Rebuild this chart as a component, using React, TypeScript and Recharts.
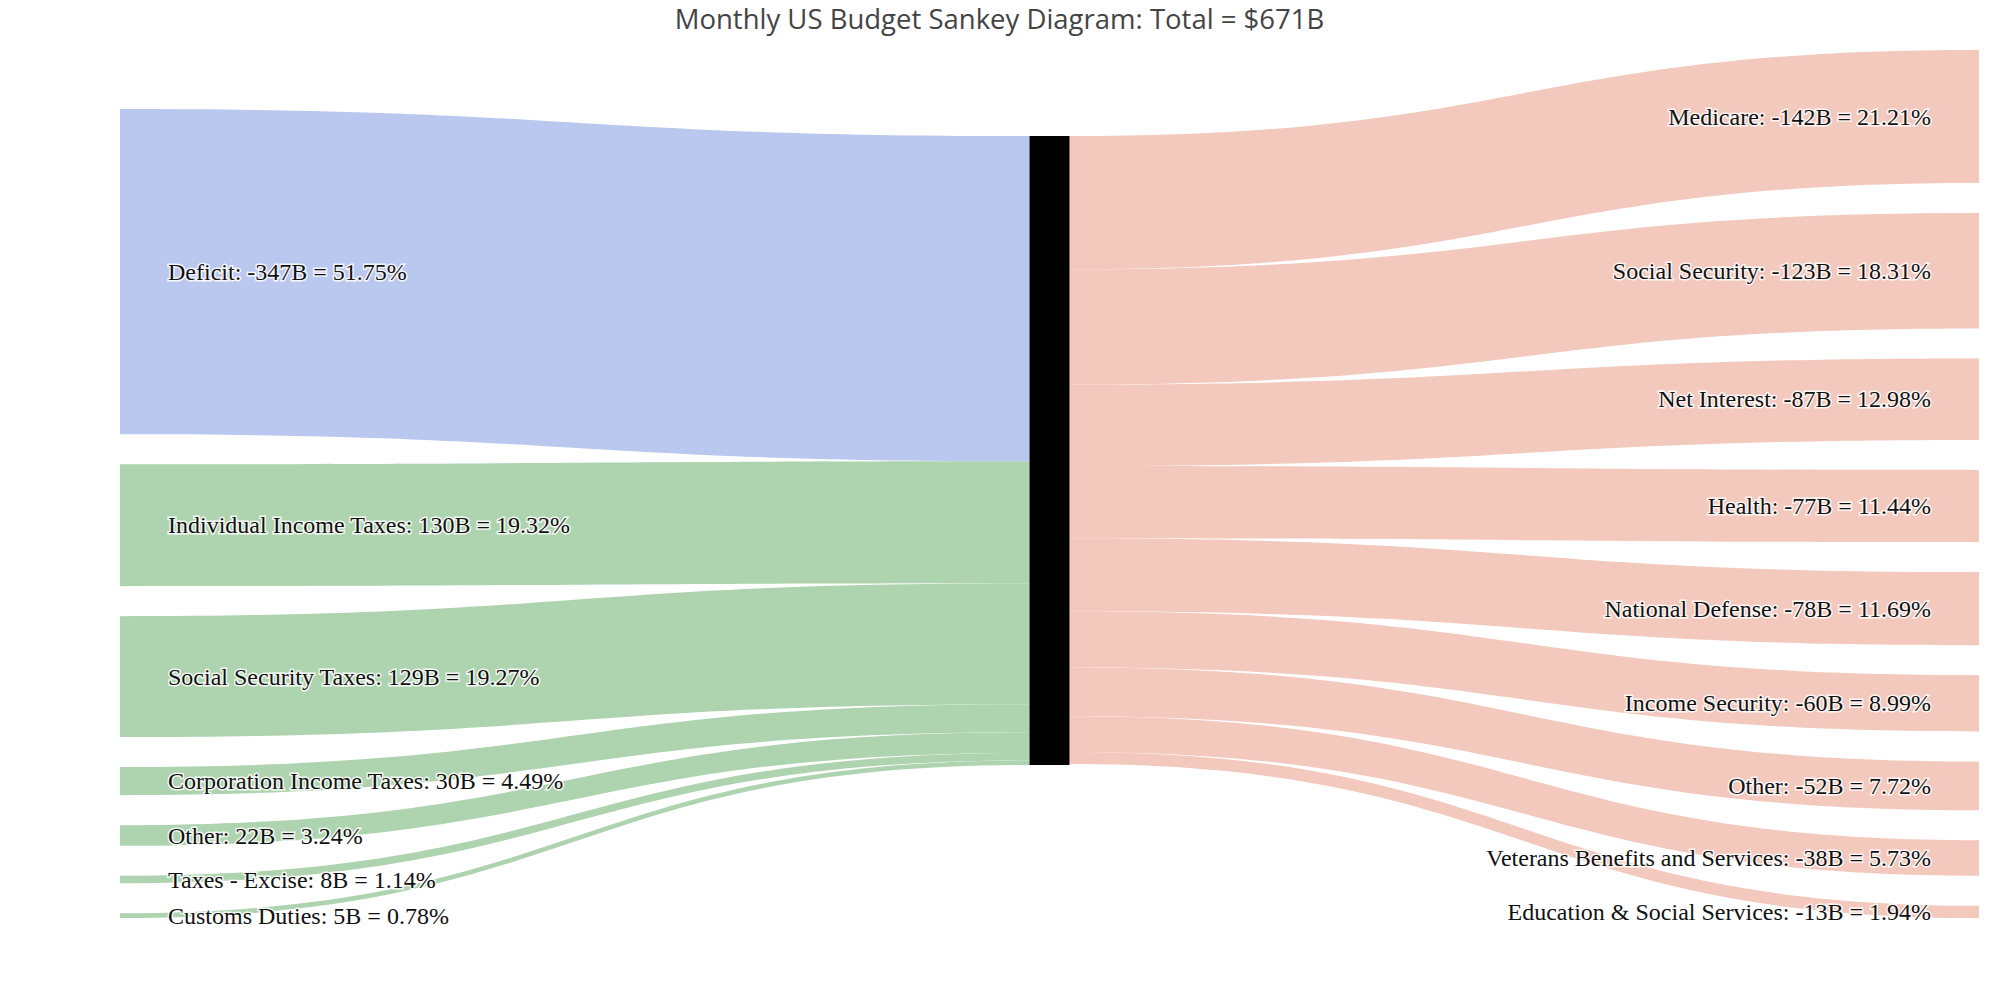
import React from 'react';
import { Sankey, Layer, Rectangle } from 'recharts';

// revenue sources (left column), in display order
const sourceNames = [
  'Deficit',
  'Individual Income Taxes',
  'Social Security Taxes',
  'Corporation Income Taxes',
  'Other',
  'Taxes - Excise',
  'Customs Duties',
];
const sourceValues = [347, 130, 129, 30, 22, 8, 5];
const sourceShares = ['51.75%', '19.32%', '19.27%', '4.49%', '3.24%', '1.14%', '0.78%'];

// spending categories (right column), in display order
const outlayNames = [
  'Medicare',
  'Social Security',
  'Net Interest',
  'Health',
  'National Defense',
  'Income Security',
  'Other',
  'Veterans Benefits and Services',
  'Education & Social Services',
];
const outlayValues = [142, 123, 87, 77, 78, 60, 52, 38, 13];
const outlayShares = ['21.21%', '18.31%', '12.98%', '11.44%', '11.69%', '8.99%', '7.72%', '5.73%', '1.94%'];

const totalBudget = 671;

const BLUE = '#bac8f0';
const GREEN = '#aed3af';
const SALMON = '#f3c8bd';

const hubIndex = sourceNames.length;

const nodes = [
  ...sourceNames.map((name, i) => ({
    name,
    side: 'left',
    label: `${name}: ${i === 0 ? '-' : ''}${sourceValues[i]}B = ${sourceShares[i]}`,
  })),
  { name: 'Budget', side: 'hub', label: '' },
  ...outlayNames.map((name, i) => ({
    name,
    side: 'right',
    label: `${name}: -${outlayValues[i]}B = ${outlayShares[i]}`,
  })),
];

const links = [
  ...sourceValues.map((value, i) => ({
    source: i,
    target: hubIndex,
    value,
    color: i === 0 ? BLUE : GREEN,
  })),
  ...outlayValues.map((value, i) => ({
    source: hubIndex,
    target: hubIndex + 1 + i,
    value,
    color: SALMON,
  })),
];

const data = { nodes, links };

const labelStyle: React.CSSProperties = {
  fontFamily: '"Liberation Serif", "Times New Roman", serif',
  fontSize: 24,
  fill: '#111',
  stroke: '#fff',
  strokeWidth: 3,
  strokeOpacity: 0.85,
  paintOrder: 'stroke',
};

const BudgetNode = (props: any) => {
  const { x, y, width, height, payload } = props;
  const cy = y + height / 2;
  if (payload.side === 'hub') {
    return (
      <Layer>
        <Rectangle x={x} y={y} width={width} height={height} fill="#000" />
      </Layer>
    );
  }
  const left = payload.side === 'left';
  return (
    <Layer>
      <text
        x={left ? x + width + 48 : x - 48}
        y={cy}
        textAnchor={left ? 'start' : 'end'}
        dominantBaseline="central"
        style={labelStyle}
      >
        {payload.label}
      </text>
    </Layer>
  );
};

const BudgetLink = (props: any) => {
  const { sourceX, targetX, sourceY, targetY, sourceControlX, targetControlX, linkWidth, payload } = props;
  const h = linkWidth / 2;
  const d = [
    `M${sourceX},${sourceY - h}`,
    `C${sourceControlX},${sourceY - h} ${targetControlX},${targetY - h} ${targetX},${targetY - h}`,
    `L${targetX},${targetY + h}`,
    `C${targetControlX},${targetY + h} ${sourceControlX},${sourceY + h} ${sourceX},${sourceY + h}`,
    'Z',
  ].join(' ');
  return <path d={d} fill={payload.color} stroke="none" />;
};

export default function App() {
  return (
    <div
      style={{
        position: 'absolute',
        left: 0,
        top: 0,
        width: 1999,
        height: 1000,
        overflow: 'hidden',
        background: '#fff',
      }}
    >
      <div style={{ position: 'absolute', left: 0, top: 0 }}>
        <Sankey
          width={2019}
          height={1000}
          data={data}
          nodeWidth={40}
          nodePadding={30}
          sort={false}
          linkCurvature={0.5}
          iterations={32}
          margin={{ top: 50, right: 0, bottom: 82, left: 80 }}
          node={<BudgetNode />}
          link={<BudgetLink />}
        />
      </div>
      <svg width={1999} height={44} style={{ position: 'absolute', left: 0, top: 0 }}>
        <text
          x={999.5}
          y={29}
          textAnchor="middle"
          style={{ fontFamily: '"Open Sans", sans-serif', fontSize: 27.5, fill: '#444' }}
        >
          Monthly US Budget Sankey Diagram: Total = ${totalBudget}B
        </text>
      </svg>
    </div>
  );
}
